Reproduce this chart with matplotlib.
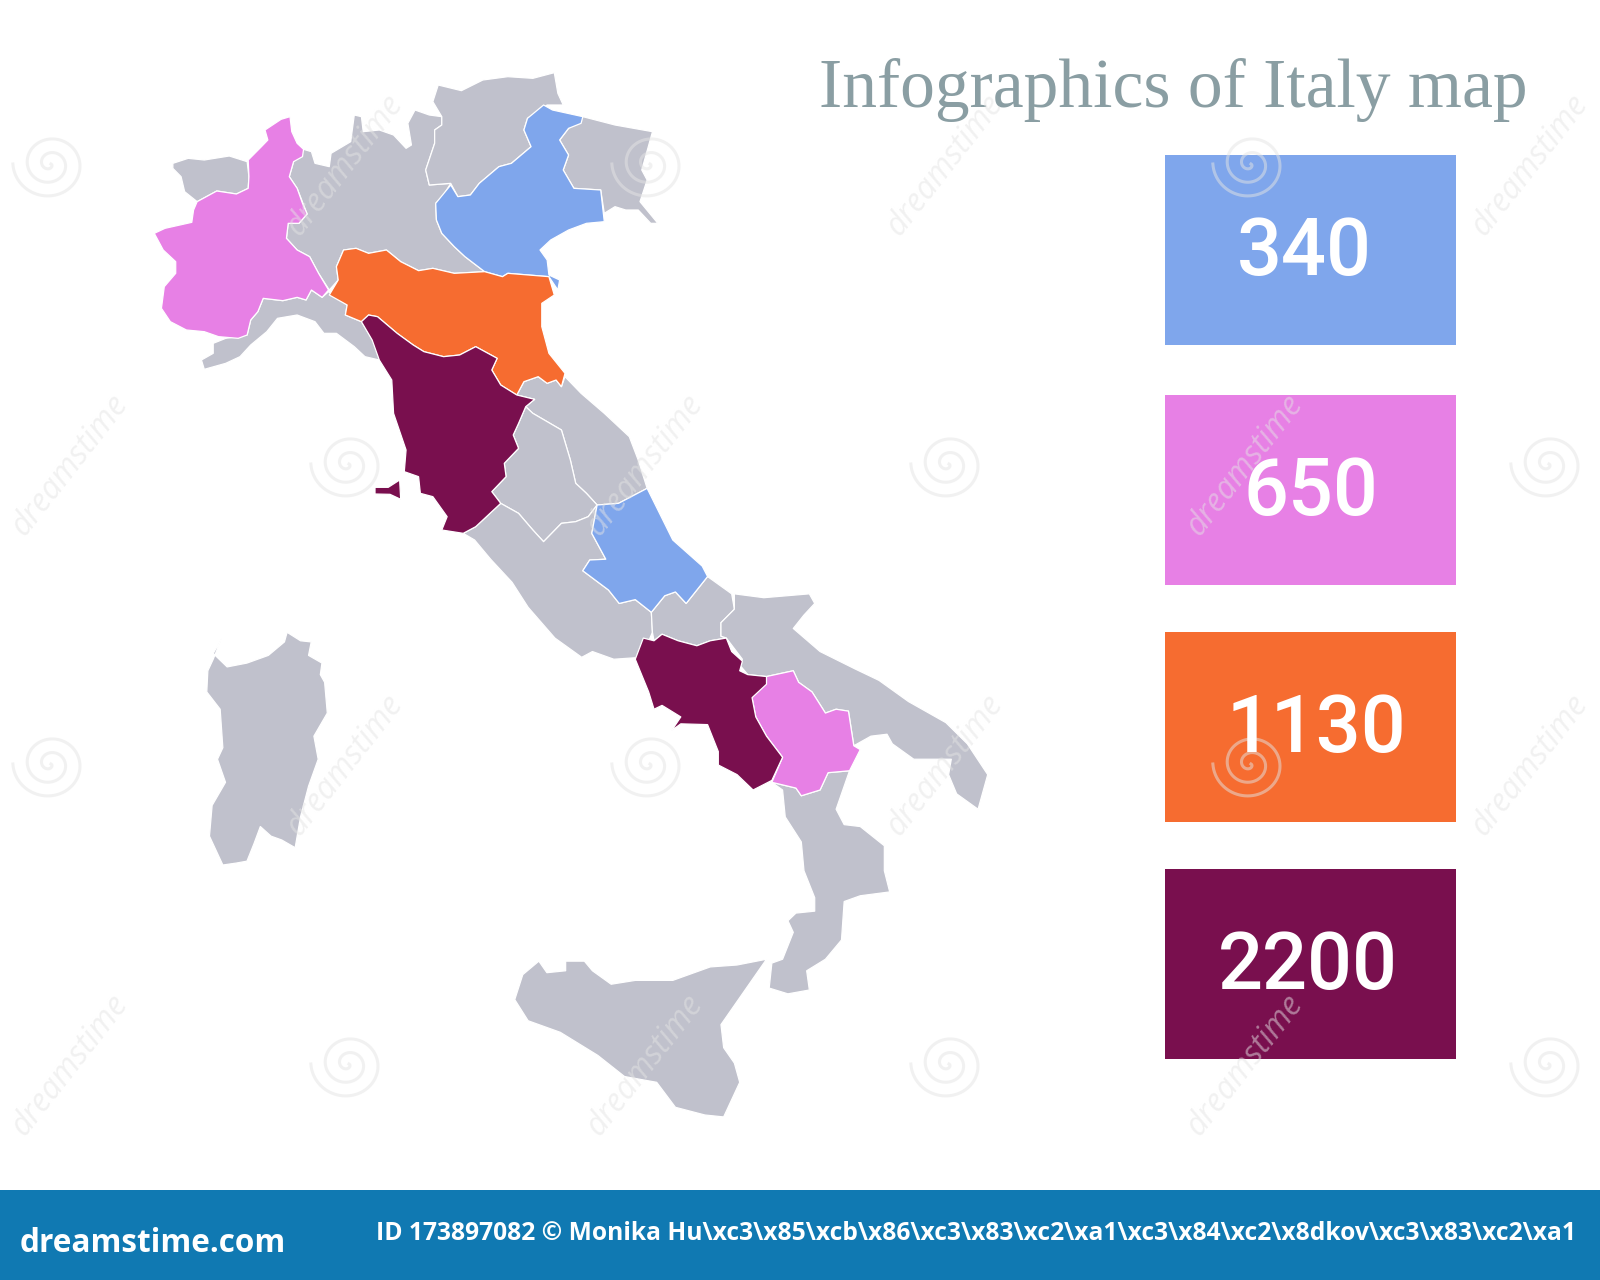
import numpy as np
import matplotlib
matplotlib.use('Agg')
from matplotlib import pyplot as plt
from matplotlib.patches import Polygon, Rectangle

aosta = [(92,310),(135,295),(180,300),(250,288),(300,305),(305,350),(303,385),(270,402),(215,393),(160,425),(125,395),(115,350),(92,325)]
piedmont = [(420,170),(425,215),(440,250),(458,268),(455,290),(430,305),(418,350),(440,385),(455,430),(468,462),(445,490),(415,490),(410,535),(440,570),(475,590),(500,640),(528,690),(510,712),(480,690),(465,720),(440,712),(400,722),(345,715),(330,755),(310,780),(300,825),(275,835),(220,830),(180,815),(130,810),(85,785),(60,745),(68,680),(100,640),(100,605),(65,570),(40,520),(70,505),(145,487),(150,450),(160,425),(215,393),(270,402),(303,385),(305,350),(303,300),(340,260),(358,240),(350,210),(395,178)]
lombardy = [(458,268),(480,275),(490,310),(530,320),(535,280),(590,245),(600,165),(620,170),(625,215),(670,210),(710,225),(745,265),(760,255),(750,190),(770,150),(810,165),(845,170),(845,195),(825,210),(825,250),(800,330),(810,375),(870,370),(850,405),(828,430),(830,480),(845,520),(880,560),(910,590),(965,635),(880,640),(820,625),(780,632),(730,605),(690,570),(640,580),(605,565),(570,570),(550,620),(555,660),(530,690),(500,640),(475,590),(440,570),(410,535),(415,490),(445,490),(468,462),(440,385),(418,350),(430,305)]
trentino = [(820,125),(835,75),(900,92),(960,60),(1030,50),(1100,55),(1160,38),(1170,100),(1185,135),(1140,135),(1085,175),(1075,210),(1095,260),(1040,310),(1005,320),(950,370),(925,405),(890,410),(870,370),(810,375),(800,330),(825,250),(825,210),(845,195),(845,170)]
veneto = [(1130,135),(1155,150),(1240,170),(1235,190),(1200,205),(1175,240),(1200,285),(1185,330),(1215,385),(1290,390),(1300,485),(1250,490),(1200,510),(1150,540),(1120,570),(1140,600),(1145,645),(1175,660),(1170,690),(1145,650),(1030,640),(1015,650),(965,635),(910,590),(880,560),(845,520),(830,480),(828,430),(870,375),(890,410),(925,405),(950,370),(1005,320),(1040,310),(1095,260),(1075,210),(1085,175)]
friuli = [(1240,170),(1330,195),(1435,215),(1405,330),(1420,360),(1400,425),(1450,490),(1430,490),(1395,450),(1360,450),(1330,440),(1300,460),(1290,390),(1215,385),(1185,330),(1200,285),(1175,240),(1200,205)]
emilia = [(570,570),(605,565),(640,580),(690,570),(730,605),(780,632),(820,625),(880,640),(965,635),(1015,650),(1030,640),(1145,650),(1160,705),(1125,730),(1125,800),(1145,880),(1190,940),(1180,980),(1165,960),(1140,970),(1115,950),(1075,965),(1055,1005),(1010,975),(985,930),(1000,895),(940,860),(895,885),(850,890),(795,875),(765,855),(720,820),(665,770),(640,765),(620,785),(575,765),(580,735),(530,705),(555,660),(550,620)]
liguria = [(528,695),(580,735),(575,765),(620,785),(640,820),(670,875),(670,900),(630,890),(600,860),(550,820),(515,820),(490,785),(440,765),(385,775),(355,815),(310,855),(280,890),(240,910),(180,928),(172,900),(205,880),(205,850),(240,835),(300,825),(310,780),(330,755),(345,715),(400,722),(440,712),(465,720),(480,690),(510,712)]
tuscany = [(620,785),(640,765),(665,770),(720,820),(765,855),(795,875),(850,890),(895,885),(940,860),(1000,895),(985,930),(1010,975),(1055,1005),(1105,1018),(1080,1040),(1060,1090),(1045,1125),(1060,1165),(1020,1210),(1025,1250),(985,1295),(1010,1330),(970,1370),(940,1400),(905,1420),(845,1410),(860,1370),(820,1310),(785,1300),(780,1250),(740,1235),(745,1170),(710,1060),(705,960),(670,900),(650,840)]
elba = [(658,1282),(695,1282),(727,1260),(730,1318),(700,1303),(658,1302)]
marche = [(1075,965),(1115,950),(1140,970),(1165,960),(1180,980),(1190,950),(1235,1000),(1300,1060),(1370,1130),(1395,1200),(1420,1285),(1340,1330),(1280,1335),(1250,1300),(1220,1270),(1205,1200),(1180,1110),(1140,1085),(1100,1060),(1080,1040),(1105,1018),(1055,1005)]
umbria = [(1080,1040),(1100,1060),(1140,1085),(1180,1110),(1205,1200),(1220,1270),(1250,1300),(1280,1335),(1255,1370),(1220,1385),(1180,1390),(1130,1445),(1100,1410),(1060,1360),(1010,1330),(985,1295),(1025,1250),(1020,1210),(1060,1165),(1045,1125),(1060,1090)]

abruzzo_n = [(1420,1285),(1340,1330),(1280,1335),(1265,1420)]
abruzzo_s = [(795,50),(765,52),(752,80),(800,130),(820,165),(850,155),(880,188),(905,145),(925,135),(945,165),(985,95),(975,68),(920,0)]
lazio_n = [(905,1420),(940,1400),(970,1370),(1010,1330),(1060,1360),(1100,1410),(1130,1445),(1180,1390),(1220,1385),(1255,1370),(1280,1335),(1265,1420)]
lazio_s = [(795,50),(765,52),(752,80),(800,130),(820,165),(850,155),(880,188),(882,240),(862,305),(810,310),(770,290),(750,305),(700,255),(650,175),(620,110),(580,50),(550,0)]
molise = [(880,188),(905,145),(925,135),(945,165),(985,95),(1030,140),(1035,180),(1010,215),(1010,250),(1020,255),(990,262),(965,275),(930,262),(900,245),(885,262),(882,240)]
puglia = [(1035,140),(1090,150),(1175,140),(1185,165),(1165,195),(1145,230),(1195,290),(1260,335),(1305,365),(1360,420),(1430,475),(1470,530),(1508,610),(1490,700),(1450,660),(1435,610),(1440,570),(1370,570),(1330,530),(1320,505),(1290,510),(1258,535),(1248,445),(1225,440),(1205,450),(1180,395),(1155,370),(1145,340),(1095,355),(1060,350),(1045,325),(1050,310),(1020,255),(1010,250),(1010,215),(1035,180)]
campania = [(865,255),(885,262),(900,245),(930,262),(965,275),(990,262),(1020,255),(1030,290),(1050,315),(1045,340),(1060,350),(1095,355),(1095,375),(1068,410),(1075,460),(1095,510),(1125,565),(1105,625),(1070,650),(1040,610),(1005,585),(1005,550),(985,480),(935,478),(918,495),(935,460),(900,430),(885,440),(875,395),(850,310)]
basilicata = [(1095,355),(1145,340),(1155,370),(1180,395),(1205,450),(1225,440),(1248,445),(1258,535),(1270,545),(1250,600),(1210,605),(1195,650),(1160,665),(1150,645),(1105,630),(1125,565),(1095,510),(1075,460),(1068,410)]
calabria = [(1105,630),(1150,645),(1160,665),(1195,650),(1210,605),(1250,600),(1225,700),(1240,740),(1270,745),(1315,795),(1315,860),(1325,915),(1270,925),(1240,940),(1235,1040),(1205,1090),(1170,1120),(1175,1170),(1135,1180),(1100,1165),(1105,1100),(1125,1090),(1145,1020),(1135,990),(1150,970),(1185,965),(1185,930),(1165,860),(1160,785),(1130,720),(1125,650)]
sicily = [(670,1095),(685,1125),(720,1120),(720,1095),(755,1095),(770,1120),(805,1155),(850,1145),(920,1145),(990,1110),(1040,1105),(1095,1090),(1060,1160),(1010,1260),(1015,1320),(1035,1360),(1045,1410),(1015,1500),(980,1495),(925,1475),(890,1410),(830,1395),(780,1340),(710,1280),(650,1250),(625,1195),(640,1130)]
sardinia = [(78,255),(62,295),(88,330),(125,320),(165,300),(195,265),(200,240),(225,262),(245,265),(240,300),(265,320),(262,350),(270,370),(275,450),(250,510),(258,570),(240,640),(225,720),(215,800),(190,780),(170,770),(150,745),(138,790),(125,835),(105,840),(80,845),(65,800),(55,770),(60,690),(85,630),(70,570),(80,540),(75,440),(50,395),(52,340),(62,310)]

values = ['340', '650', '1130', '2200']
box_colors = ['#7FA6EC', '#E780E5', '#F66C30', '#790F4E']
box_tops = [155, 395, 632, 869]
value_x = [1304, 1311, 1316, 1308]

GRAY = '#C0C1CC'
BLUE, PINK, ORANGE, PLUM = box_colors

def north(pts):
    p = np.array(pts, dtype=float)
    return np.column_stack([140 + p[:, 0] / 2.8, 60 + p[:, 1] / 3])

def south(pts):
    p = np.array(pts, dtype=float)
    return np.column_stack([180 + p[:, 0] / 1.867, 540 + p[:, 1] / 2.6])

regions = [
    (north(aosta), GRAY), (north(lombardy), GRAY), (north(trentino), GRAY),
    (north(friuli), GRAY), (north(liguria), GRAY), (north(marche), GRAY),
    (north(umbria), GRAY), (np.vstack([north(lazio_n), south(lazio_s)]), GRAY),
    (south(molise), GRAY), (south(puglia), GRAY), (south(calabria), GRAY),
    (south(sicily), GRAY), (south(sardinia), GRAY),
    (north(piedmont), PINK), (south(basilicata), PINK),
    (north(veneto), BLUE), (np.vstack([north(abruzzo_n), south(abruzzo_s)]), BLUE),
    (north(emilia), ORANGE),
    (north(tuscany), PLUM), (north(elba), PLUM), (south(campania), PLUM),
]

fig = plt.figure(figsize=(16, 12.8), dpi=100)
ax = fig.add_axes([0, 0, 1, 1])
ax.set_xlim(0, 1600)
ax.set_ylim(1280, 0)
ax.axis('off')

for pts, c in regions:
    ax.add_patch(Polygon(pts, closed=True, facecolor=c, edgecolor='white', linewidth=0.9, joinstyle='round', zorder=2))

ax.text(1173, 90, 'Infographics of Italy map', family='Liberation Serif', fontsize=50,
        color='#8A9EA3', ha='center', va='center', zorder=3)

for v, c, top, vx in zip(values, box_colors, box_tops, value_x):
    ax.add_patch(Rectangle((1165, top), 291, 190, facecolor=c, edgecolor='none', zorder=3))
    ax.text(vx, top + 98, v, family='Roboto', fontweight='medium', fontsize=57, color='white',
            ha='center', va='center', zorder=5)

# watermark
spiral_x = [50, 649, 1250, 348, 948, 1548, 50, 649, 1250, 348, 948, 1548]
spiral_y = [164, 164, 164, 464, 464, 464, 764, 764, 764, 1064, 1064, 1064]
t = np.linspace(0, 5 * np.pi, 200)
for sx, sy in zip(spiral_x, spiral_y):
    r = 1 + t * 2.3
    ax.plot(sx + r * np.cos(t), sy + r * 0.95 * np.sin(t), color='#e4e4e4', lw=2.2, alpha=.5, zorder=4)

mark_x = [345, 945, 1530, 70, 645, 1245, 345, 945, 1530, 70, 645, 1245]
mark_y = [165, 165, 165, 465, 465, 465, 765, 765, 765, 1065, 1065, 1065]
for mx, my in zip(mark_x, mark_y):
    ax.text(mx, my, 'dreamstime', fontsize=23, color='#e4e4e4', alpha=.5, rotation=52,
            ha='center', va='center', family='Open Sans', style='italic', zorder=4)

# footer
ax.add_patch(Rectangle((0, 1190), 1600, 90, facecolor='#1079B2', edgecolor='none', zorder=6))
ax.text(20, 1243, 'dreamstime.com', family='Open Sans', fontweight='bold', fontsize=22.7,
        color='white', ha='left', va='center', zorder=7)
ax.text(376, 1234, r'ID 173897082 © Monika Hu\xc3\x85\xcb\x86\xc3\x83\xc2\xa1\xc3\x84\xc2\x8dkov\xc3\x83\xc2\xa1',
        family='Open Sans', fontweight='bold', fontsize=17.7, color='white', ha='left', va='center', zorder=7)

fig.savefig('out.png', dpi=100)
